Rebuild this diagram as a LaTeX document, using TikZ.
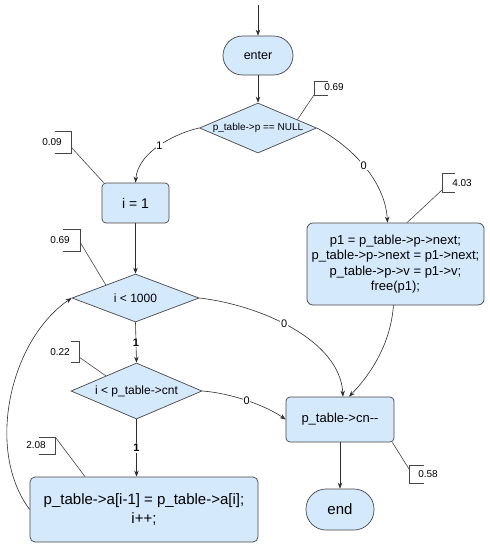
\documentclass[tikz,border=0pt]{standalone}
\usepackage{fontspec}
\setmainfont{Liberation Sans}
\usetikzlibrary{shapes.geometric,arrows.meta,calc}
\definecolor{nodefill}{RGB}{213,233,252}
\definecolor{bordc}{RGB}{70,70,70}
\definecolor{edgec}{RGB}{45,45,45}
\newcommand{\fs}[2]{\fontsize{#1}{#2}\selectfont}
\begin{document}
\begin{tikzpicture}[x=1pt,y=-1pt,
  blk/.style={draw=bordc, fill=nodefill, rounded corners=4pt, inner sep=0pt, align=center, line width=0.7pt},
  term/.style={draw=bordc, fill=nodefill, rounded corners=19.5pt, inner sep=0pt, line width=0.7pt},
  dia/.style={diamond, draw=bordc, fill=nodefill, inner sep=0pt, line width=0.7pt},
  arr/.style={draw=edgec, line width=0.6pt, -{Stealth[length=6pt,width=4.5pt]}},
  lbl/.style={fill=white, inner sep=0.8pt, font=\fs{11}{12}},
  blbl/.style={fill=white, inner sep=0.8pt, font=\fs{11}{12}\bfseries},
  ann/.style={inner sep=0pt, font=\fs{10}{11}},
  annline/.style={draw=bordc, line width=0.6pt}
]
\useasboundingbox (0,0) rectangle (490,550);

% nodes
\node[term, minimum width=70pt, minimum height=39pt, font=\fs{12.5}{14}] (enter) at (258,55.5) {enter};
\node[dia, minimum width=117pt, minimum height=50pt,
  label={[font=\fs{10}{11}]center:p\_table->p == NULL}] (d1) at (258,128) {};
\node[blk, minimum width=67pt, minimum height=40pt, font=\fs{14}{16}] (i1) at (135.5,203) {i = 1};
\node[dia, minimum width=127pt, minimum height=48pt,
  label={[font=\fs{12}{13}]center:i < 1000}] (d2) at (135.5,298) {};
\node[blk, rounded corners=6pt, minimum width=177pt, minimum height=82pt, font=\fs{13}{15.3}] (p1) at (395.5,264)
  {p1 = p\_table->p->next;\\p\_table->p->next = p1->next;\\p\_table->p->v = p1->v;\\free(p1);};
\node[dia, minimum width=131pt, minimum height=56pt,
  label={[font=\fs{12}{13}]center:i < p\_table->cnt}] (d3) at (136.5,391) {};
\node[blk, rounded corners=5pt, minimum width=228pt, minimum height=65pt, font=\fs{15}{18.3}] (bot) at (144,509.5)
  {p\_table->a[i-1] = p\_table->a[i];\\i++;};
\node[blk, minimum width=108pt, minimum height=45pt, font=\fs{13}{15}] (cn) at (340,419.5) {p\_table->cn-{}-};
\node[term, rounded corners=20pt, minimum width=68pt, minimum height=41pt, font=\fs{15}{17}] (end) at (340,509.5) {end};
\coordinate (start) at (258,5);

% connectors
\draw[arr] (start) -- (enter);
\draw[arr] (enter) -- (d1);
\draw[arr] (d1.west) .. controls (180,132) and (138,150) .. node[lbl, pos=0.52] {1} (i1.north);
\draw[arr] (d1.east) .. controls (350,145) and (385,180) .. node[lbl, pos=0.5] {0} ([xshift=-8pt]p1.north);
\draw[arr] (i1) -- (d2);
\draw[arr] (d2.south) -- node[blbl] {1} (d3.north);
\draw[arr] (d2.east) .. controls (260,305) and (340,340) .. node[lbl, pos=0.45] {0} ([xshift=3pt]cn.north);
\draw[arr] (d3.south) -- node[blbl] {1} (d3.south |- bot.north);
\draw[arr] (d3.east) .. controls (230,393) and (265,405) .. node[lbl, pos=0.5] {0} (cn.west);
\draw[arr] ([xshift=-2pt]p1.south) .. controls (390,350) and (365,380) .. ([xshift=9pt]cn.north);
\draw[arr] (cn) -- (end);
\draw[arr] (bot.west) .. controls (-15,450) and (10,340) .. (d2.west);

% annotations
\node[ann] (a1) at (334,87) {0.69};
\draw[annline] (328,81) -- (314,81) -- (314,95) -- (328,95);
\draw[annline] (314,95) -- ($(d1.north)!0.67!(d1.east)$);

\node[ann] (a2) at (52,142) {0.09};
\draw[annline] (55,131) -- (71,131) -- (71,153) -- (55,153);
\draw[annline] (71,147) -- ([xshift=2pt]i1.north west);

\node[ann] (a3) at (60,240) {0.69};
\draw[annline] (63,229) -- (80,229) -- (80,251) -- (63,251);
\draw[annline] (80,242) -- ($(d2.north)!0.465!(d2.west)$);

\node[ann] (a4) at (462,183) {4.03};
\draw[annline] (455,173) -- (442,173) -- (442,192) -- (455,192);
\draw[annline] (442,190) -- ([xshift=11.5pt]p1.north);

\node[ann] (a5) at (60,352) {0.22};
\draw[annline] (71,341) -- (79,341) -- (79,362) -- (71,362);
\draw[annline] (79,357) -- ($(d3.north)!0.466!(d3.west)$);

\node[ann] (a6) at (36,445) {2.08};
\draw[annline] (39,437) -- (55,437) -- (55,454) -- (39,454);
\draw[annline] (56,438) -- ([xshift=-59pt]bot.north);

\node[ann] (a7) at (428,474) {0.58};
\draw[annline] (424,465) -- (409,465) -- (409,483) -- (424,483);
\draw[annline] ([xshift=-2pt]cn.south east) -- (409,469);
\end{tikzpicture}
\end{document}
